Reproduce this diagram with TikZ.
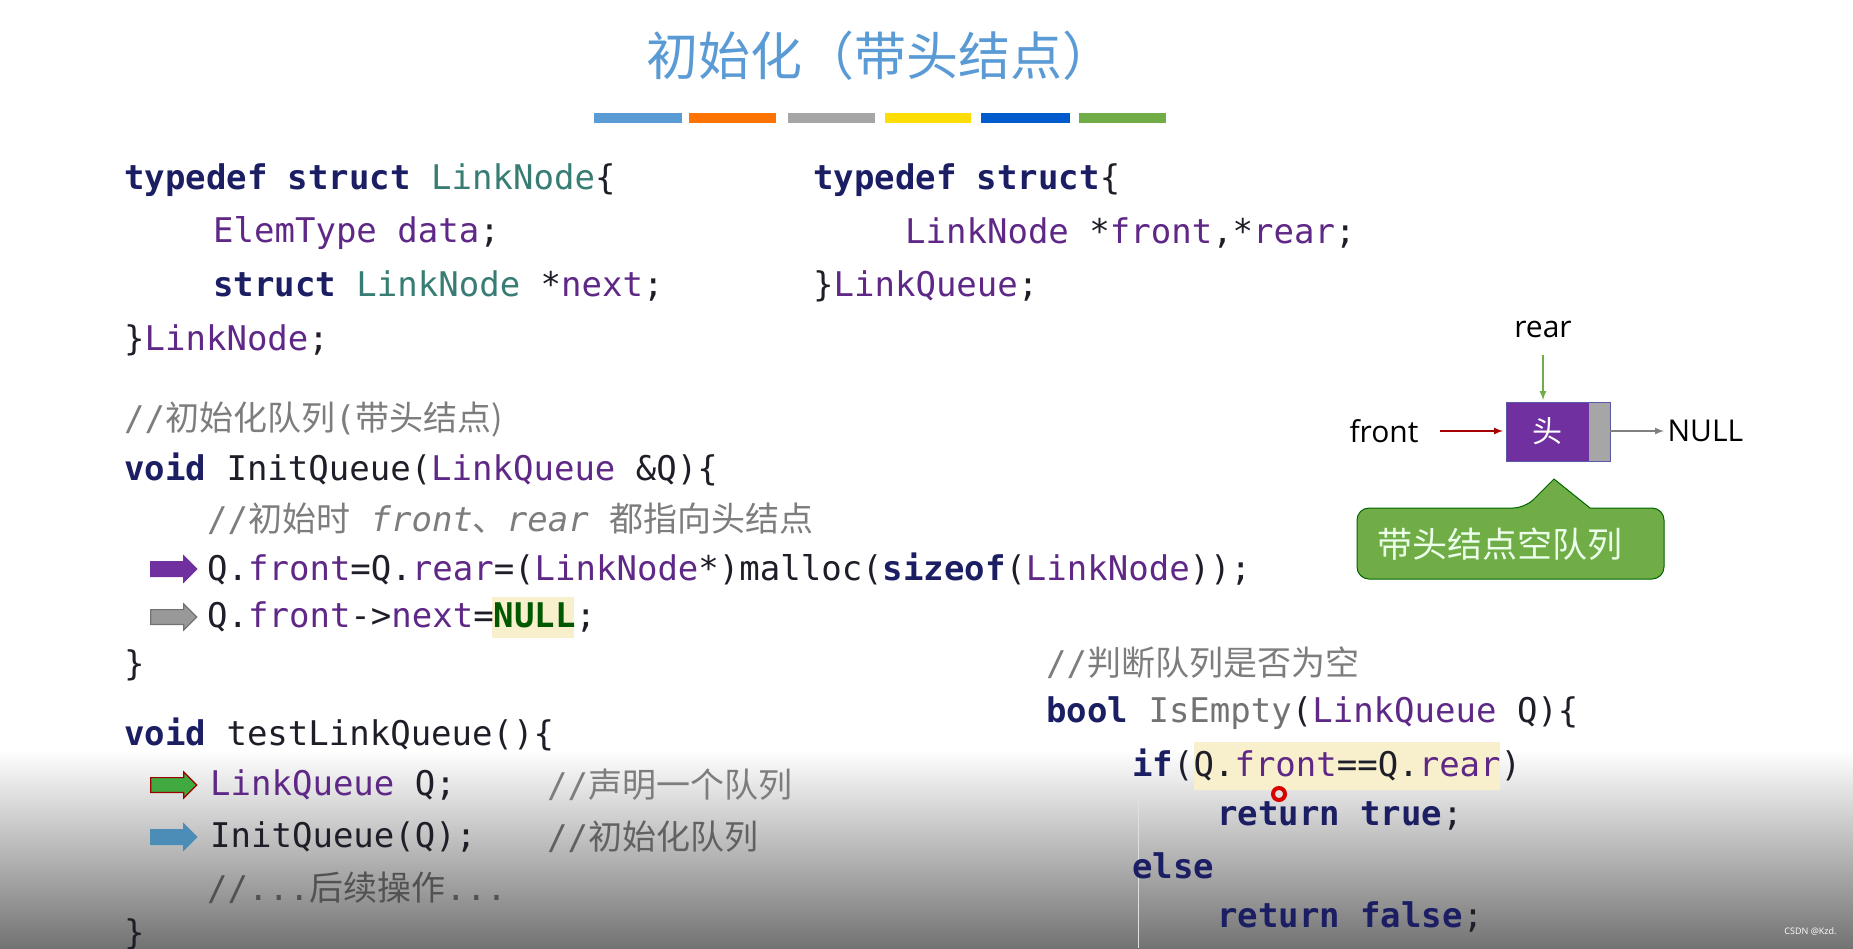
\documentclass[tikz,border=0pt]{standalone}
\usepackage{fontspec}
\usetikzlibrary{shapes.arrows}
\newfontfamily\codefont{DejaVu Sans Mono}
\newfontfamily\cjk{Noto Sans CJK SC}
\newfontfamily\uisans{Open Sans}
\definecolor{kw}{RGB}{28,30,100}
\definecolor{ty}{RGB}{55,125,115}
\definecolor{fld}{RGB}{95,40,135}
\definecolor{cm}{RGB}{125,125,125}
\definecolor{pl}{RGB}{30,30,40}
\definecolor{hl}{RGB}{248,240,205}
\definecolor{ttl}{RGB}{91,155,213}
\definecolor{gboxc}{RGB}{112,173,71}
\definecolor{vbox}{RGB}{112,48,160}
\newcommand{\K}[1]{{\bfseries\color{kw}#1}}
\newcommand{\T}[1]{{\color{ty}#1}}
\newcommand{\F}[1]{{\color{fld}#1}}
\newcommand{\C}[1]{{\color{cm}#1}}
\begin{document}
\begin{tikzpicture}[x=1pt,y=-1pt,
  code/.style={anchor=west,inner sep=0,text=pl,font=\codefont\fontsize{34}{40}\selectfont},
  bar/.style={line width=10pt},
  blockarrow/.style={single arrow,minimum height=46pt,minimum width=26pt,single arrow head extend=5pt,inner sep=6pt,line width=1.2pt},
  diag/.style={font=\uisans\fontsize{30}{34}\selectfont,text=black}]
\useasboundingbox (0,0) rectangle (1853,948);
\fill[white] (0,0) rectangle (1853,948);
\shade[top color=white,bottom color=black!55] (0,750) rectangle (1853,948);
% title
\node[font=\cjk\fontsize{52}{58}\selectfont,text=ttl] (title) at (880,56) {初始化（带头结点）};
\draw[bar,ttl] (594,118) -- (682,118);
\draw[bar,orange!90!red] (689,118) -- (776,118);
\draw[bar,black!35] (788,118) -- (875,118);
\draw[bar,yellow!80!orange] (885,118) -- (971,118);
\draw[bar,blue!55!cyan!80!black] (981,118) -- (1070,118);
\draw[bar,gboxc] (1079,118) -- (1166,118);
% highlights
\fill[hl] (492,597) rectangle (574,638);
\fill[hl] (1194,742) rectangle (1500,790);
\draw[black!12,line width=1pt] (1138,790) -- (1138,948);
% left code
\node[code] (l1) at (124,180) {\K{typedef struct} \T{LinkNode}\{};
\node[code] (l2) at (213,233) {\F{ElemType data};};
\node[code] (l3) at (213,286) {\K{struct} \T{LinkNode} *\F{next};};
\node[code] (l4) at (124,340) {\}\F{LinkNode};};
\node[code] (r1) at (813,180) {\K{typedef struct}\{};
\node[code] (r2) at (905,233) {\F{LinkNode} *\F{front},*\F{rear};};
\node[code] (r3) at (813,286) {\}\F{LinkQueue};};
\node[code] (c1) at (124,420) {\C{//{\cjk 初始化队列}(\cjk 带头结点)}};
\node[code] (c2) at (124,469) {\K{void} InitQueue(\F{LinkQueue} \&Q)\{};
\node[code] (c3) at (207,519) {\C{//{\cjk 初始时} \itshape front{\cjk 、}rear \upshape{\cjk 都指向头结点}}};
\node[code] (c4) at (207,569) {Q.\F{front}=Q.\F{rear}=(\F{LinkNode}*)malloc(\K{sizeof}(\F{LinkNode}));};
\node[code] (c5) at (207,617) {Q.\F{front}->\F{next}={\bfseries\color{green!35!black}NULL};};
\node[code] (c6) at (124,665) {\}};
\node[code] (t1) at (124,734) {\K{void} testLinkQueue()\{};
\node[code] (t2) at (210,785) {\F{LinkQueue} Q;};
\node[code] (t2c) at (547,785) {\C{//{\cjk 声明一个队列}}};
\node[code] (t3) at (210,837) {InitQueue(Q);};
\node[code,text=black!62] (t3c) at (547,837) {//{\cjk 初始化队列}};
\node[code,text=black!68] (t4) at (207,888) {//...{\cjk 后续操作}...};
\node[code] (t5) at (124,934) {\}};
% arrows
\node[blockarrow,fill=vbox,draw=vbox] (a1) at (170,569) {};
\node[blockarrow,fill=gray!80,draw=gray!90!black] (a2) at (170,617) {};
\node[blockarrow,fill=green!55!black!75,draw=red!60!black] (a3) at (170,785) {};
\node[blockarrow,fill=blue!40!cyan!60!black!70,draw=blue!40!cyan!60!black!70] (a4) at (170,837) {};
% right code
\node[code] (e1) at (1046,663) {\C{//{\cjk 判断队列是否为空}}};
\node[code] (e2) at (1046,713) {\K{bool} {\color{black!55}IsEmpty}(\F{LinkQueue} Q)\{};
\node[code] (e3) at (1132,765) {\K{if}(Q.\F{front}==Q.\F{rear})};
\node[code] (e4) at (1217,816) {\K{return true};};
\node[code] (e5) at (1132,866) {\K{else}};
\node[code] (e6) at (1217,917) {\K{return false};};
\draw[red!85!black,line width=4pt] (1279,794) circle (6pt);
% diagram
\fill[vbox] (1506,402) rectangle (1589,461);
\fill[gray!70] (1589,402) rectangle (1610,461);
\draw[blue!30!gray,line width=1pt] (1506,402) rectangle (1610,461);
\node[font=\cjk\fontsize{30}{34}\selectfont,text=white] (head) at (1547,431) {头};
\node[diag,anchor=east] (front) at (1422,431) {front};
\node[diag] (rear) at (1543,329) {rear};
\node[diag,anchor=west] (null) at (1664,431) {NULL};
\draw[-latex,red!65!black,line width=2pt] (front.east)++(18,0) -- (1503,431);
\draw[-latex,gboxc,line width=2pt] (1543,355) -- (1543,400);
\draw[-latex,gray,line width=2pt] (1610,431) -- (null.west);
\draw[fill=gboxc,draw=green!40!black,line width=1pt,rounded corners=12pt]
  (1357,508) -- (1525,508) [sharp corners] -- (1554,479) -- (1590,508) [rounded corners=12pt] -- (1664,508) -- (1664,579) -- (1357,579) -- cycle;
\node[font=\cjk\fontsize{35}{40}\selectfont,text=white!92!green] (callout) at (1500,544) {带头结点空队列};
\node[font=\uisans\fontsize{9}{10}\selectfont,text=white,anchor=east] (wm) at (1840,931) {CSDN @Kzd.};
\end{tikzpicture}
\end{document}
